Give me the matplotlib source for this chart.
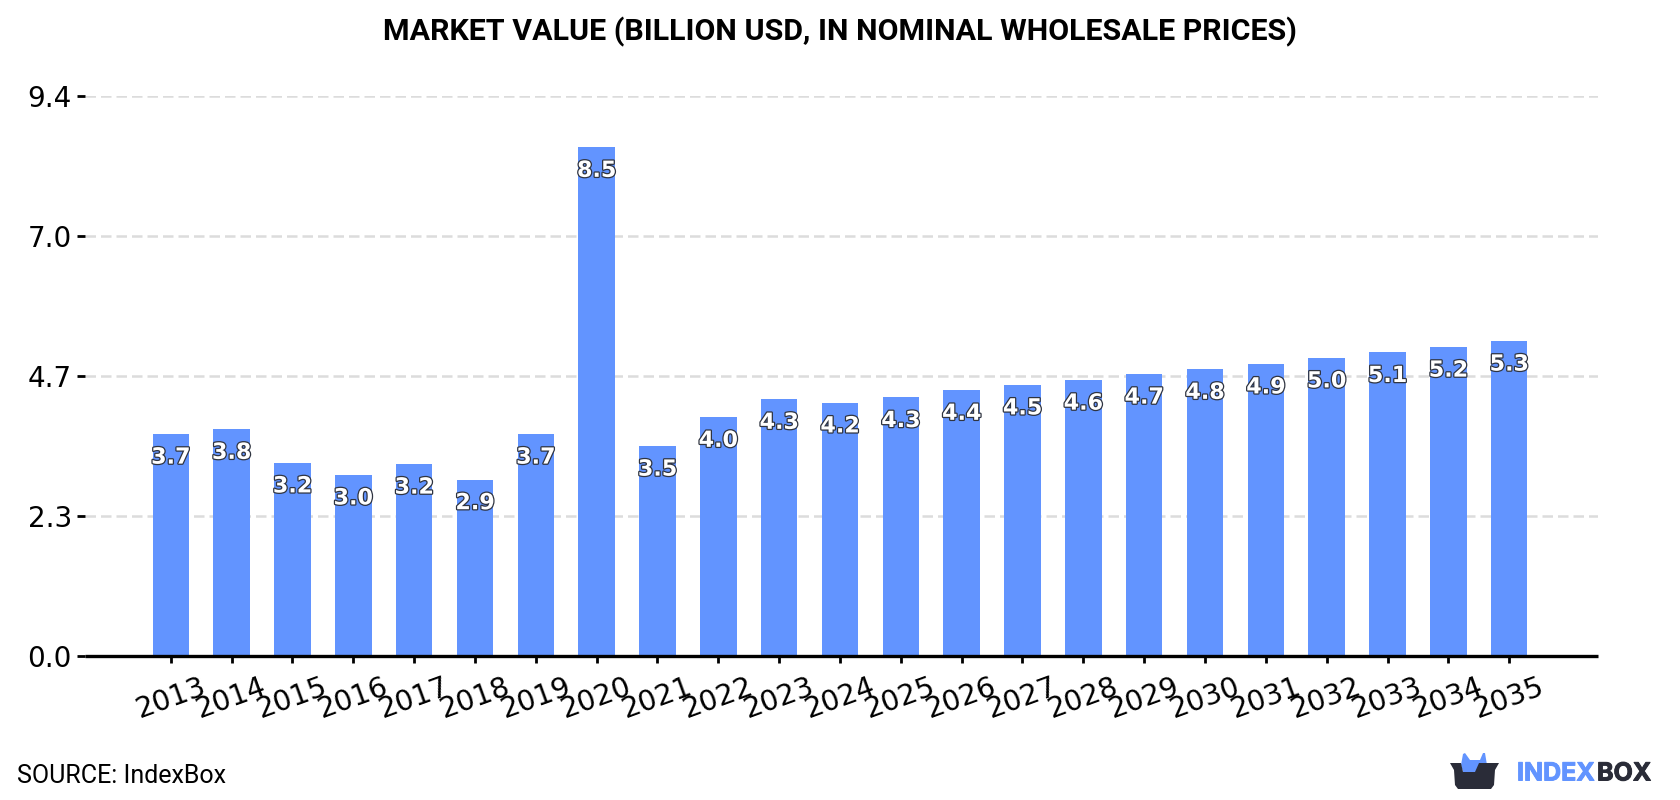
import matplotlib
matplotlib.use("Agg")
import matplotlib.pyplot as plt
import matplotlib.patheffects as pe
from matplotlib.patches import Polygon

years = list(range(2013, 2036))
values = [3.70, 3.78, 3.22, 3.02, 3.20, 2.94, 3.70, 8.48, 3.50, 3.98, 4.28, 4.22,
          4.31, 4.43, 4.52, 4.60, 4.70, 4.78, 4.87, 4.97, 5.06, 5.15, 5.251]
y_ticks = [0, 7 / 3, 14 / 3, 7, 28 / 3]
y_labels = ["0.0", "2.3", "4.7", "7.0", "9.4"]

BLUE = "#6294ff"
DARK = "#2a2c38"
W, H = 1680, 800

fig = plt.figure(figsize=(W / 100, H / 100), dpi=100)
ax = fig.add_axes([85 / W, 1 - 656 / H, (1598 - 85) / W, 560 / H])

ax.bar(years, values, width=0.6, color=BLUE, zorder=3)

# value labels sit just under the top of each bar
for year, val in zip(years, values):
    ax.annotate(f"{val:.1f}", (year, val), xytext=(0, -17), textcoords="offset points",
                ha="center", va="center", fontsize=16, fontweight="bold", color="white",
                family="DejaVu Sans", zorder=4,
                path_effects=[pe.withStroke(linewidth=1.8, foreground="#2f3440")])

ax.set_xlim(2013 - 1.41, 2035 + 1.46)
ax.set_ylim(0, 560 / 60)
ax.set_xticks(years)
ax.set_xticklabels(years, rotation=20, fontsize=20.5, family="DejaVu Sans")
ax.set_yticks(y_ticks)
ax.set_yticklabels(y_labels, fontsize=20, family="DejaVu Sans")
ax.tick_params(axis="x", length=5, width=2, pad=7)
ax.tick_params(axis="y", length=6, width=2, pad=3.5)

ax.grid(axis="y", color="#dcdcdc", linewidth=1.8, linestyle=(0, (4.2, 2.0)), zorder=0)
ax.set_axisbelow(True)
for side in ["top", "right", "left"]:
    ax.spines[side].set_visible(False)
ax.spines["bottom"].set_linewidth(2.4)
ax.spines["bottom"].set_capstyle("butt")
ax.spines["bottom"].set_zorder(5)

# overlay in pixel coordinates for title, source and logo
ov = fig.add_axes([0, 0, 1, 1], facecolor="none")
ov.set_xlim(0, W)
ov.set_ylim(H, 0)
ov.axis("off")

ov.text(840, 32, "MARKET VALUE (BILLION USD, IN NOMINAL WHOLESALE PRICES)", ha="center", va="center",
        fontsize=21.9, fontweight="bold", family="Roboto", color="black")
ov.text(17, 776, "SOURCE: IndexBox", ha="left", va="center", fontsize=18, family="Roboto", color="black")

ov.add_patch(Polygon([(1461, 765), (1463, 754), (1465, 753), (1470, 760), (1480, 760),
                      (1483, 753), (1485, 753), (1487, 765), (1478, 772), (1463, 772)],
                     closed=True, fc=BLUE, ec="none", zorder=2))
ov.add_patch(Polygon([(1450, 763), (1461, 763), (1463, 772), (1475, 772), (1479, 763), (1499, 763),
                      (1495, 770), (1494, 785), (1491, 789), (1458, 789), (1455, 785), (1454, 770)],
                     closed=True, fc=DARK, ec="none", zorder=3))
ov.text(1517, 774, "INDEX", ha="left", va="center", fontsize=18, fontweight="bold", family="Inter", color=BLUE,
        path_effects=[pe.withStroke(linewidth=0.7, foreground=BLUE)])
ov.text(1597, 774, "BOX", ha="left", va="center", fontsize=18, fontweight="bold", family="Inter", color=DARK,
        path_effects=[pe.withStroke(linewidth=0.7, foreground=DARK)])

fig.savefig("out.png", dpi=100, facecolor="white")
